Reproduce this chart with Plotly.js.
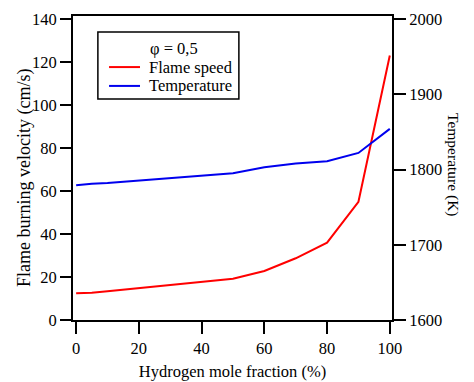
<!DOCTYPE html>
<html>
<head>
<meta charset="utf-8">
<script src="https://cdn.plot.ly/plotly-3.0.1.min.js"></script>
<style>html,body{margin:0;padding:0;background:#fff;}#chart{width:474px;height:382px;}</style>
</head>
<body>
<div id="chart"></div>
<script>
const hydrogen = [0, 5, 10, 20, 30, 40, 50, 60, 70, 80, 90, 100];
const flameSpeed = [12.5, 12.7, 13.4, 14.9, 16.2, 17.6, 19.2, 22.8, 28.7, 36, 55, 123];
const temperature = [1779, 1781, 1782, 1785, 1788, 1791, 1795, 1803, 1808, 1811, 1822, 1854];
const xTicks = [0, 20, 40, 60, 80, 100];
const leftTicks = [0, 20, 40, 60, 80, 100, 120, 140];
const rightTicks = [1600, 1700, 1800, 1900, 2000];
const seriesNames = ['Flame speed', 'Temperature'];
const seriesColors = ['#ff0000', '#0000ee'];
const legendTitle = 'φ = 0,5';

const font = 'Liberation Serif, Times New Roman, serif';
const fs = 16.5;
const traces = [
  {x: hydrogen, y: flameSpeed, type: 'scatter', mode: 'lines', name: seriesNames[0],
   line: {color: seriesColors[0], width: 2}, yaxis: 'y'},
  {x: hydrogen, y: temperature, type: 'scatter', mode: 'lines', name: seriesNames[1],
   line: {color: seriesColors[1], width: 2}, yaxis: 'y2'}
];
const axCommon = {showline: true, linecolor: '#000', linewidth: 2, ticks: 'outside',
  tickwidth: 2, tickcolor: '#000', showgrid: false, zeroline: false,
  tickfont: {family: font, size: fs, color: '#000'}};

// manual legend (box, sample lines, labels) in paper coordinates
const lgX0 = 0.078, lgX1 = 0.520, lgY0 = 0.727, lgY1 = 0.947;
const rowY = [0.832, 0.770];
const sampleX = [0.113, 0.210], labelX = 0.232;
const shapes = [{type: 'rect', xref: 'paper', yref: 'paper', x0: lgX0, x1: lgX1, y0: lgY0, y1: lgY1,
  line: {color: '#000', width: 1.5}, fillcolor: 'rgba(0,0,0,0)'}];
const annotations = [
  {text: legendTitle, xref: 'paper', yref: 'paper', x: 0.317, y: 0.893, xanchor: 'center', yanchor: 'middle',
   showarrow: false, font: {family: font, size: fs, color: '#000'}},
  {text: 'Flame burning velocity (cm/s)', textangle: -90, xref: 'paper', yref: 'paper',
   x: -0.1536, y: 0.467, xanchor: 'center', yanchor: 'middle', showarrow: false,
   font: {family: font, size: 18, color: '#000'}},
  {text: 'Temperature (K)', textangle: 90, xref: 'paper', yref: 'paper',
   x: 1.191, y: 0.51, xanchor: 'center', yanchor: 'middle', showarrow: false,
   font: {family: font, size: 15.5, color: '#000'}}
];
seriesNames.forEach((n, i) => {
  shapes.push({type: 'line', xref: 'paper', yref: 'paper', x0: sampleX[0], x1: sampleX[1],
    y0: rowY[i], y1: rowY[i], line: {color: seriesColors[i], width: 2}});
  annotations.push({text: n, xref: 'paper', yref: 'paper', x: labelX, y: rowY[i],
    xanchor: 'left', yanchor: 'middle', showarrow: false, font: {family: font, size: fs, color: '#000'}});
});

const layout = {
  width: 474, height: 382,
  margin: {l: 73, r: 82, t: 16, b: 62},
  paper_bgcolor: '#fff', plot_bgcolor: '#fff',
  font: {family: font, color: '#000'},
  showlegend: false,
  xaxis: Object.assign({}, axCommon, {range: [-1, 100.7], tickvals: xTicks, ticklen: 12,
    mirror: true,
    title: {text: 'Hydrogen mole fraction (%)', font: {family: font, size: fs}, standoff: 9}}),
  yaxis: Object.assign({}, axCommon, {range: [0, 141.4], tickvals: leftTicks, ticklen: 11}),
  yaxis2: Object.assign({}, axCommon, {range: [1600, 2004], tickvals: rightTicks, ticklen: 12,
    overlaying: 'y', side: 'right'}),
  shapes: shapes,
  annotations: annotations
};
Plotly.newPlot('chart', traces, layout, {displayModeBar: false, staticPlot: true});
</script>
</body>
</html>
